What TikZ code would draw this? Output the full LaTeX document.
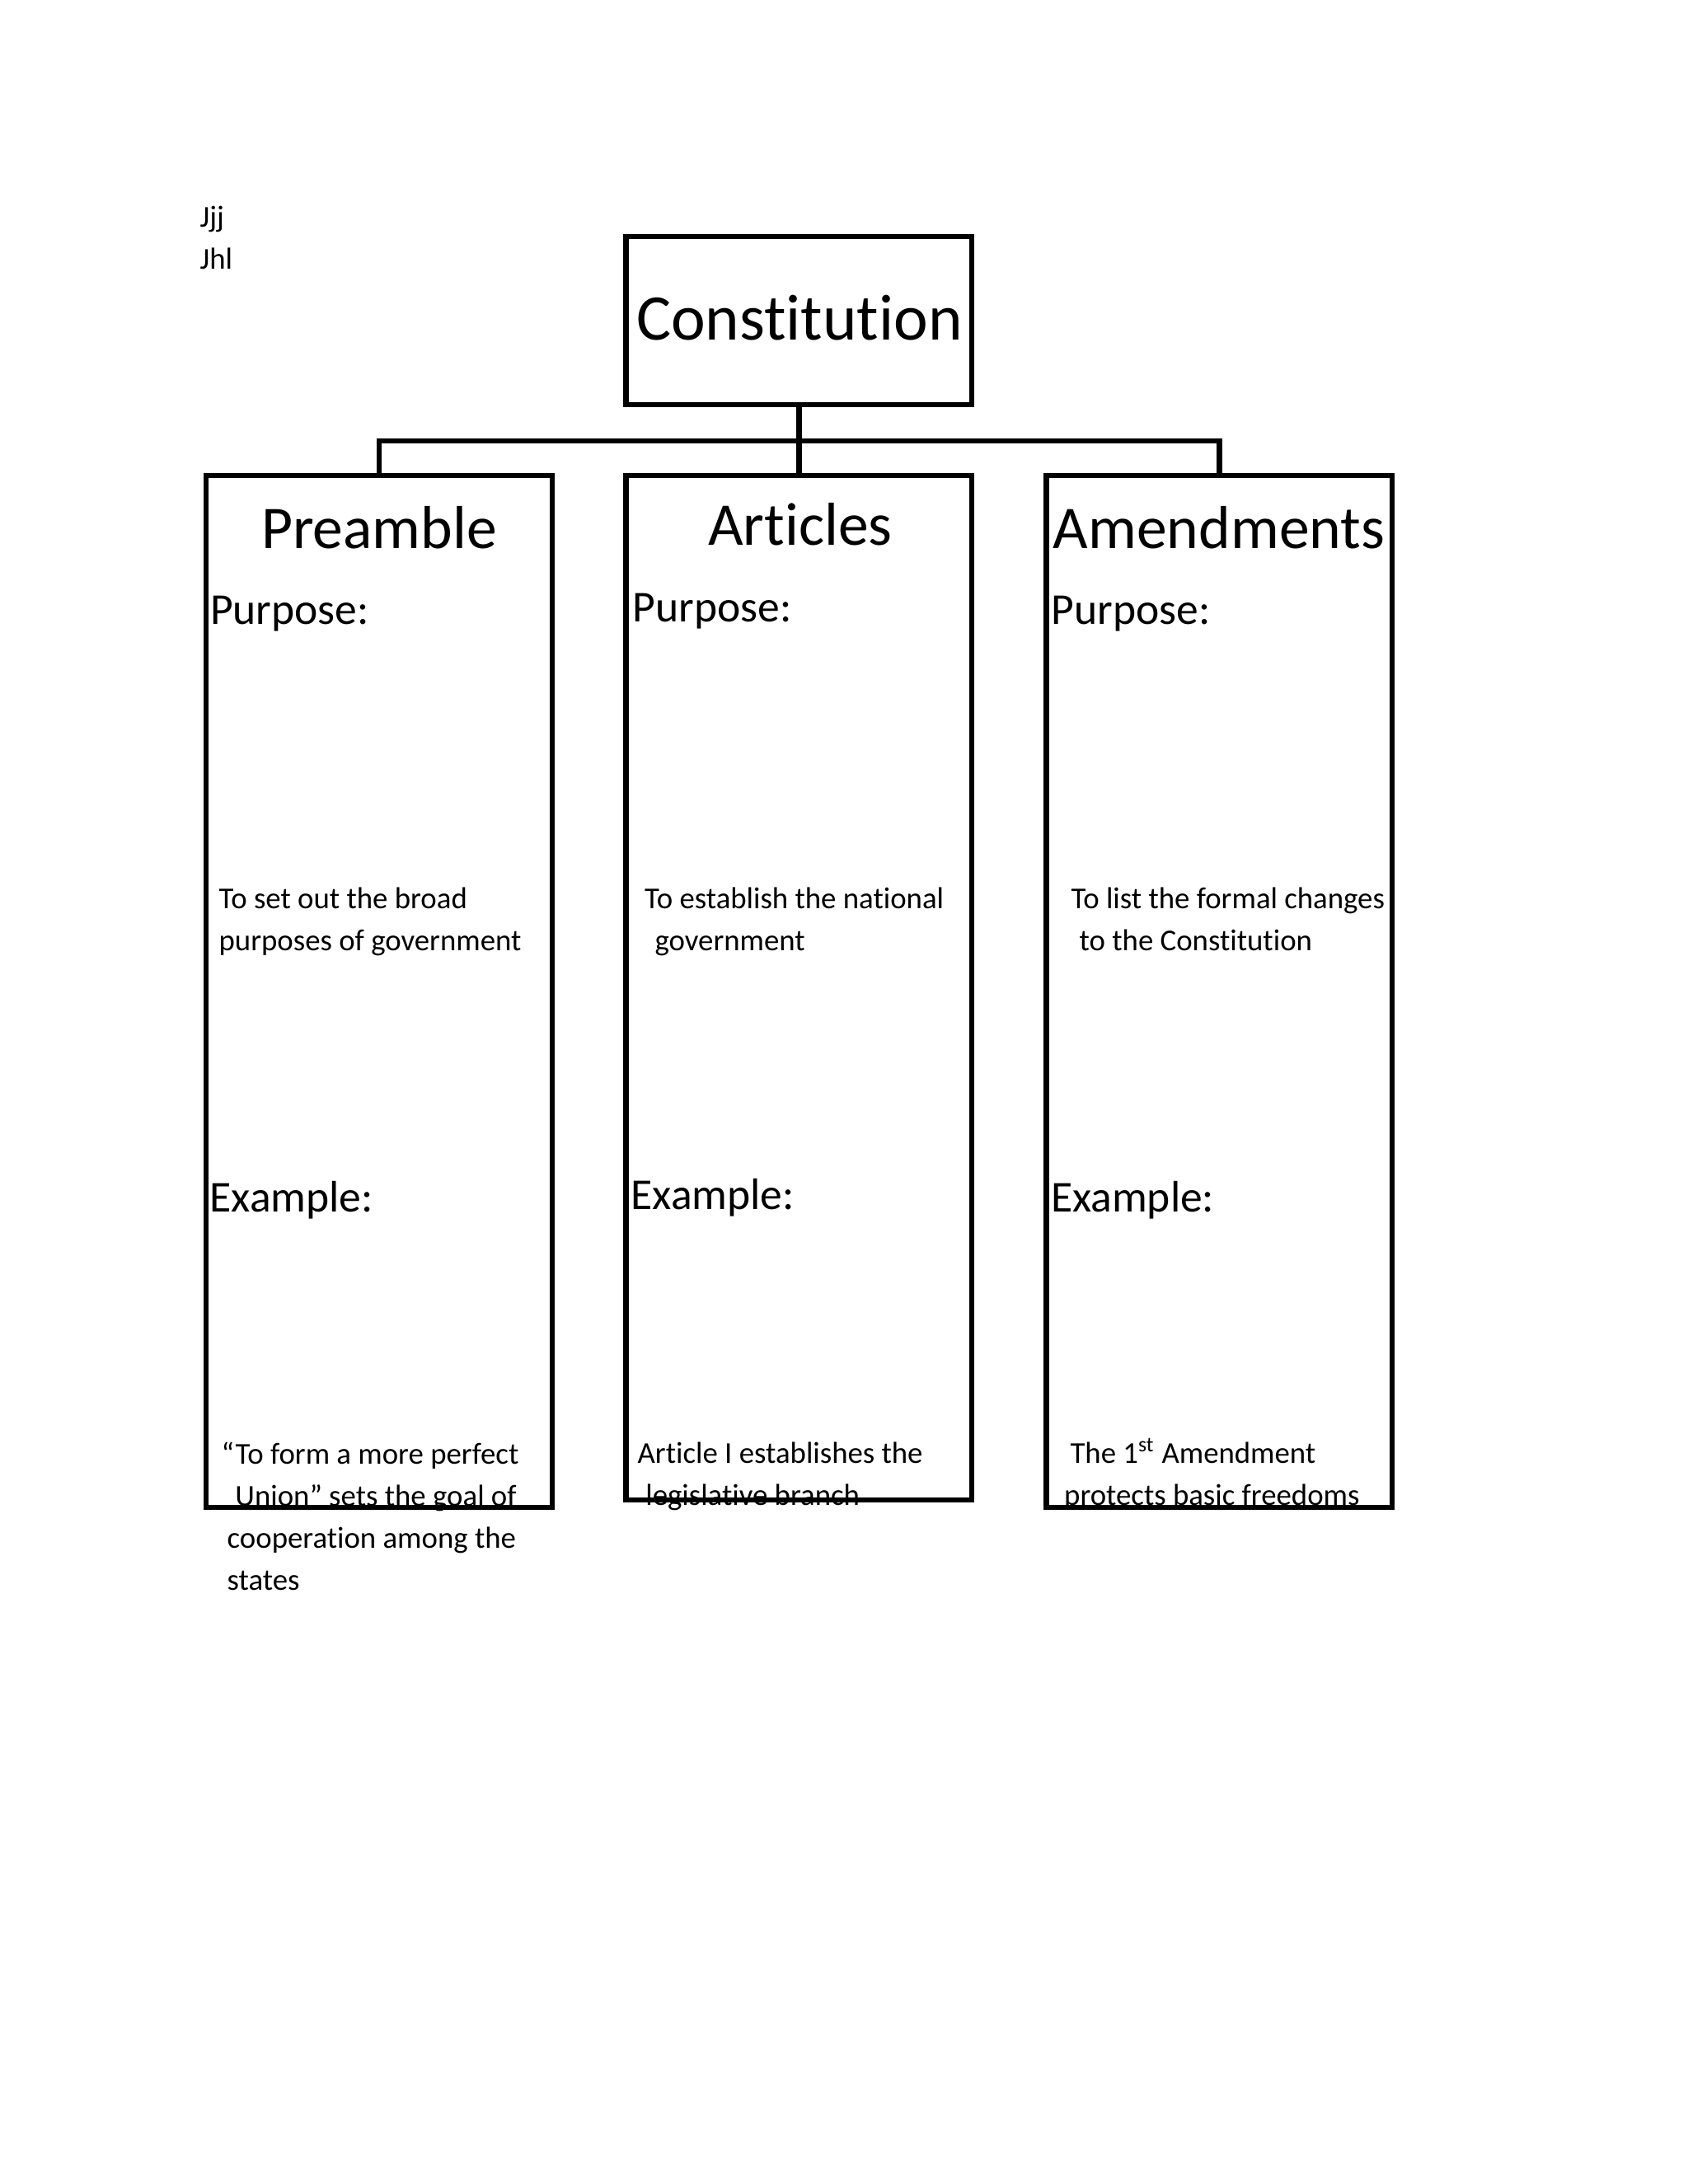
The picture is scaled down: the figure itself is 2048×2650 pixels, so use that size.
\documentclass[tikz,border=0pt]{standalone}
\usepackage{fontspec}
\setmainfont[Ligatures={NoCommon}]{Carlito}
\usepackage{tikz}
\tikzset{
  baseline = (current bounding box.center),
}

\begin{document}
\begin{tikzpicture}[
    x=0.29883pt, y=-0.29883pt,
    frame/.style={draw,line width=1.8pt,inner sep=0pt,outer sep=0pt,anchor=north west,minimum width=125.5pt},
    link/.style={line width=1.8pt},
    title/.style={inner sep=0pt,anchor=base,font=\fontsize{22}{26}\selectfont},
    head/.style={inner sep=0pt,anchor=base west,font=\fontsize{16}{19}\selectfont},
    body/.style={inner sep=0pt,anchor=base west,align=left,font=\fontsize{11}{15.2}\selectfont}
    ]
    \useasboundingbox (0,0) rectangle (2048,2650);
    \node[body] (note) at (242,326) {Jjj\\Jhl};
    \node[frame,minimum height=61pt] (const) at (759.5,287) {};
    \node[frame,minimum height=374.1pt] (pre) at (250,577.3) {};
    \node[frame,minimum height=371.4pt] (art) at (759.5,577.3) {};
    \node[frame,minimum height=374.1pt] (amd) at (1269.5,577.3) {};
    \coordinate (bar) at (969.5,534.5);
    \draw[link] (const.south) -- (art.north);
    \draw[link] (pre.north) -- (pre.north |- bar) -- (amd.north |- bar) -- (amd.north);
    \node[title,font=\fontsize{23.6}{28}\selectfont] (constname) at (970,412) {Constitution};
    \node[title] (prename) at (460,665) {Preamble};
    \node[title] (artname) at (971,661) {Articles};
    \node[title] (amdname) at (1479,665) {Amendments};
    \node[head] (prepurp) at (254.5,757) {Purpose:};
    \node[head] (artpurp) at (767,754) {Purpose:};
    \node[head] (amdpurp) at (1275,757) {Purpose:};
    \node[body] (pretext) at (265,1153) {To set out the broad\\purposes of government};
    \node[body] (arttext) at (781.5,1153) {To establish the national\\\hspace*{3.7pt}government};
    \node[body] (amdtext) at (1299,1153) {To list the formal changes\\\hspace*{3pt}to the Constitution};
    \node[head] (preex) at (254,1470) {Example:};
    \node[head] (artex) at (765,1467) {Example:};
    \node[head] (amdex) at (1274.5,1470) {Example:};
    \node[body] (preextext) at (268,1929) {“To form a more perfect\\\hspace*{5pt}Union” sets the goal of\\\hspace*{2.1pt}cooperation among the\\\hspace*{2.1pt}states};
    \node[body] (artextext) at (773,1826) {Article I establishes the\\\hspace*{2.9pt}legislative branch};
    \node[body] (amdextext) at (1290.5,1826) {\hspace*{2.2pt}The 1\textsuperscript{st} Amendment\\protects basic freedoms};
  \end{tikzpicture}
\end{document}
